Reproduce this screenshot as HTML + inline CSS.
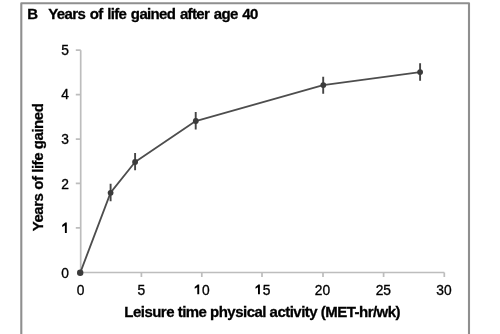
<!DOCTYPE html>
<html><head><meta charset="utf-8">
<style>
html,body{margin:0;padding:0;background:#fff;width:500px;height:334px;overflow:hidden}
svg{display:block}
text{font-family:"Liberation Sans",sans-serif}
</style></head><body>
<svg width="500" height="334" viewBox="0 0 500 334">
<defs><filter id="bl" x="-5%" y="-5%" width="110%" height="110%"><feGaussianBlur stdDeviation="0.45"/></filter></defs>
<rect x="0" y="0" width="500" height="334" fill="#fff"/>
<g filter="url(#bl)">
<path d="M21.3 340 V3.3 H469 V340" fill="none" stroke="#8f8f8f" stroke-width="2.1" stroke-linejoin="round"/>
<g font-size="15" font-weight="bold" fill="#000" stroke="#000" stroke-width="0.3">
<text x="27.2" y="18.5">B</text>
<text x="48.3" y="18.5" letter-spacing="-0.65" word-spacing="1.1">Years of life gained after age 40</text>
<text x="124.3" y="316.6" letter-spacing="-0.52">Leisure time physical activity (MET-hr/wk)</text>
<text transform="translate(43.4 231.3) rotate(-90)" letter-spacing="-0.45">Years of life gained</text>
</g>
<g stroke="#bdbdbd" stroke-width="1.7" fill="none">
<path d="M80.7 272.5 V50.2"/>
<path d="M75.8 227.9H80.7M75.8 183.4H80.7M75.8 139.1H80.7M75.8 94.6H80.7M75.8 50.2H80.7"/>
<path d="M80.7 272.5 H444.3"/>
<path d="M141.4 272.5V277M201.8 272.5V277M262 272.5V277M323 272.5V277M383.6 272.5V277M444.3 272.5V277"/>
</g>
<g font-size="15" fill="#000" stroke="#000" stroke-width="0.35" text-anchor="end">
<text transform="translate(69 278) scale(0.92 1)">0</text>
<text transform="translate(69 188.6) scale(0.92 1)">2</text>
<text transform="translate(69 143.9) scale(0.92 1)">3</text>
<text transform="translate(69 99.3) scale(0.92 1)">4</text>
<text transform="translate(69 54.8) scale(0.92 1)">5</text>
</g>
<g font-size="15" fill="#000" stroke="#000" stroke-width="0.35" text-anchor="middle">
<text transform="translate(80.6 294.8) scale(0.92 1)">0</text>
<text transform="translate(141.3 294.8) scale(0.92 1)">5</text>
<text transform="translate(205.9 294.8) scale(0.92 1)">0</text>
<text transform="translate(266.5 294.8) scale(0.92 1)">5</text>
<text transform="translate(322.4 294.8) scale(0.92 1)">20</text>
<text transform="translate(383.3 294.8) scale(0.92 1)">25</text>
<text transform="translate(444 294.8) scale(0.92 1)">30</text>
</g>
<g fill="#000">
<polygon points="65.3,222.6 66.8,222.6 66.8,232.9 64.9,232.9 64.9,225.4 62.2,226.9 62.2,225.1"/>
<polygon points="197.7,284.4 199.2,284.4 199.2,294.3 197.3,294.3 197.3,287.2 194.7,288.7 194.7,286.9"/>
<polygon points="258.4,284.4 259.9,284.4 259.9,294.3 258.0,294.3 258.0,287.2 255.5,288.7 255.5,286.9"/>
</g>
<polyline points="80.3,272.6 110.6,192.6 135.1,162 195.7,121.1 323.2,85.2 420.1,72.2" fill="none" stroke="#4e4e4e" stroke-width="1.8" stroke-linejoin="round"/>
<g stroke="#444" stroke-width="1.9">
<path d="M110.6 183.8V201.3M135.1 153V170.3M195.7 112.1V129.5M323.2 76.7V93.7M420.1 63.3V80.7"/>
</g>
<g fill="#3a3a3a">
<circle cx="80.2" cy="272.7" r="3.2"/>
<circle cx="110.6" cy="192.8" r="2.9"/>
<circle cx="135.1" cy="161.9" r="2.9"/>
<circle cx="195.8" cy="121" r="2.9"/>
<circle cx="323.3" cy="85.1" r="2.9"/>
<circle cx="420.1" cy="72.1" r="2.9"/>
</g>
</g>
</svg>
</body></html>
